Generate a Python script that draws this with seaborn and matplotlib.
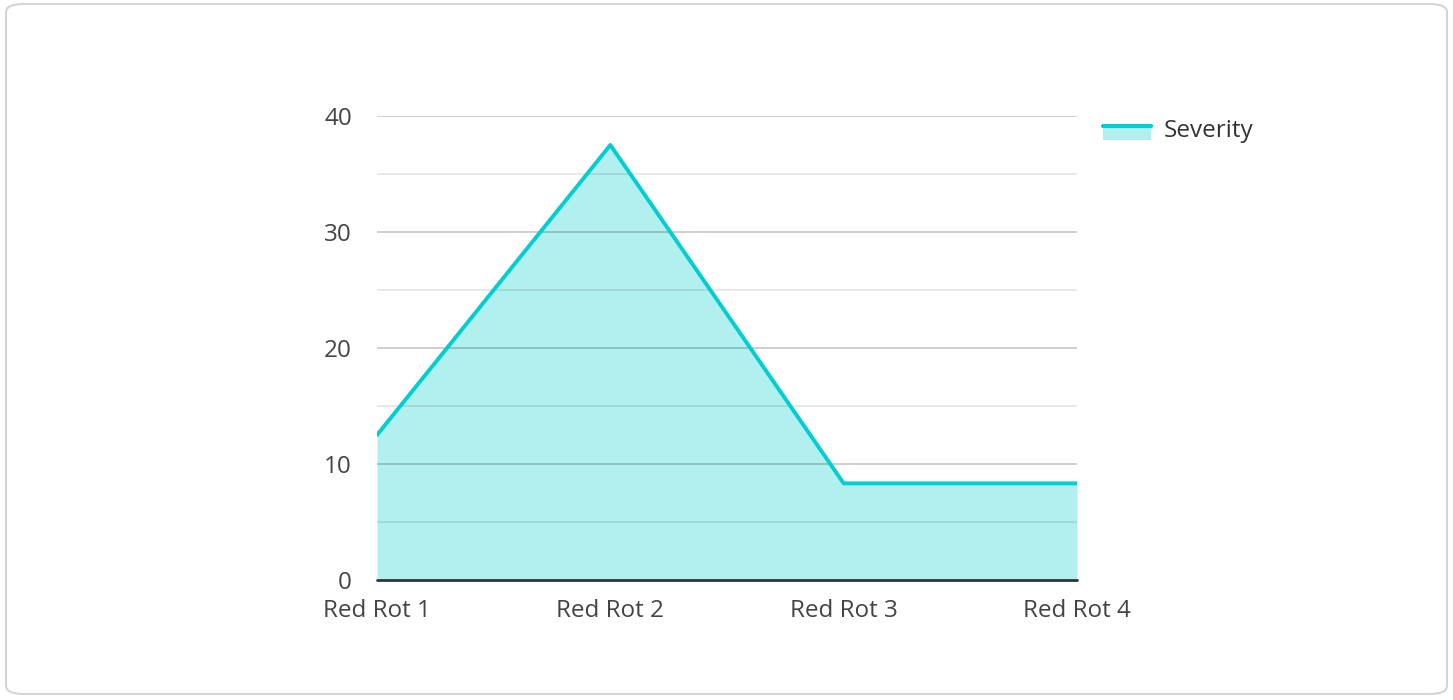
import numpy as np
import pandas as pd
import seaborn as sns
import matplotlib.pyplot as plt
from matplotlib.patches import FancyBboxPatch, Rectangle
from matplotlib.lines import Line2D

categories = ['Red Rot 1', 'Red Rot 2', 'Red Rot 3', 'Red Rot 4']
severity = [12.5, 37.5, 8.33, 8.33]
yticks = [0, 10, 20, 30, 40]

line_color = '#00CED1'
fill_color = '#B2EFEF'

sns.set_style('white')
plt.rcParams['font.family'] = ['Open Sans', 'DejaVu Sans']

data = pd.DataFrame({'pos': range(len(categories)), 'severity': severity})


class AreaHandler:
    # filled box with the line along its top edge
    def legend_artist(self, legend, orig_handle, fontsize, handlebox):
        x0, y0 = handlebox.xdescent, handlebox.ydescent
        w, h = handlebox.width, handlebox.height
        rect = Rectangle((x0, y0 - 2), w, h * 0.78, facecolor=fill_color,
                         edgecolor='none', transform=handlebox.get_transform())
        top = y0 - 2 + h * 0.78
        line = Line2D([x0, x0 + w], [top, top], color=line_color, lw=3,
                      transform=handlebox.get_transform())
        handlebox.add_artist(rect)
        handlebox.add_artist(line)
        return rect


fig = plt.figure(figsize=(14.53, 7), dpi=100)
ax = fig.add_axes([377 / 1453, 120 / 700, 700 / 1453, 464 / 700])

# rounded card border
fig.patches.append(FancyBboxPatch((6 / 1453, 6 / 700), 1441 / 1453, 690 / 700,
                                  boxstyle='round,pad=0,rounding_size=0.012',
                                  transform=fig.transFigure, facecolor='none',
                                  edgecolor='#d4d4d4', linewidth=1.5))

ax.fill_between(data['pos'], data['severity'], color=fill_color, lw=0, zorder=1)
sns.lineplot(data=data, x='pos', y='severity', ax=ax, color=line_color,
             linewidth=2.8, zorder=3)

# grid drawn over the fill
for v in range(5, 45, 5):
    a = 0.22 if v % 10 == 0 else 0.1
    ax.axhline(v, color='black', alpha=a, lw=1.2, zorder=2)
ax.axhline(0, color='#333333', lw=2, zorder=4, clip_on=False)

ax.set_xlim(0, 3)
ax.set_ylim(0, 40)
ax.set_xticks(range(len(categories)))
ax.set_xticklabels(categories)
ax.set_yticks(yticks)
ax.tick_params(axis='both', length=0, labelsize=17.5, labelcolor='#444444')
ax.tick_params(axis='y', pad=18)
ax.tick_params(axis='x', pad=14)
ax.set_xlabel('')
ax.set_ylabel('')
sns.despine(ax=ax, left=True, bottom=True, top=True, right=True)

fig.legend([object()], ['Severity'], handler_map={object: AreaHandler()},
           loc='upper left', bbox_to_anchor=(1081 / 1453, 1 - 97 / 700),
           frameon=False, fontsize=17.5, labelcolor='#333333',
           handlelength=2.0, handletextpad=0.5)

fig.savefig('out.png', dpi=100)
